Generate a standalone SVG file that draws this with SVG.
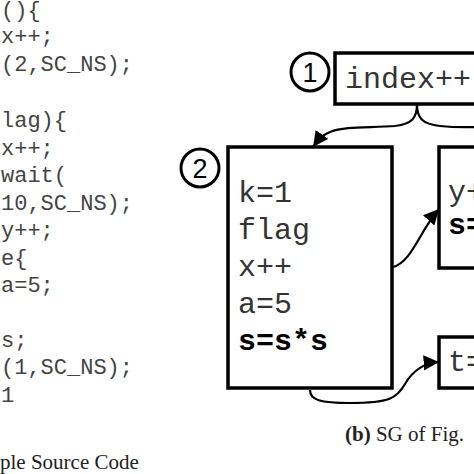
<svg xmlns="http://www.w3.org/2000/svg" width="474" height="474" viewBox="0 0 474 474">
<defs>
<style>
.code{font-family:"Liberation Mono",monospace;font-size:22px;fill:#444}
.cap{font-family:"Liberation Serif",serif;font-size:21px;fill:#222}
.box{fill:#fff;stroke:#000;stroke-width:3.5}
.nt{font-family:"Liberation Mono",monospace;font-size:30px;fill:#333}
.bt{font-family:"Liberation Mono",monospace;font-size:30px;font-weight:bold;fill:#000}
.circ{fill:#fff;stroke:#000;stroke-width:3}
.num{font-family:"Liberation Sans",sans-serif;font-size:27px;fill:#000;text-anchor:middle}
.edge{fill:none;stroke:#000;stroke-width:2.2}
</style>
<marker id="ah" viewBox="0 0 10 10" refX="10" refY="5" markerWidth="7" markerHeight="7" markerUnits="strokeWidth" orient="auto">
<path d="M0,0 L10,5 L0,10 z" fill="#000"/>
</marker>
</defs>
<rect width="474" height="474" fill="#fff"/>
<g id="code">
<text class="code" x="1" y="17">(){</text>
<text class="code" x="1" y="43">x++;</text>
<text class="code" x="1" y="71">(2,SC_NS);</text>
<text class="code" x="1" y="127">lag){</text>
<text class="code" x="1" y="155">x++;</text>
<text class="code" x="1" y="182">wait(</text>
<text class="code" x="1" y="210">10,SC_NS);</text>
<text class="code" x="1" y="237">y++;</text>
<text class="code" x="1" y="265">e{</text>
<text class="code" x="1" y="292">a=5;</text>
<text class="code" x="1" y="347">s;</text>
<text class="code" x="1" y="374">(1,SC_NS);</text>
<text class="code" x="1" y="402">1</text>
<text class="cap" x="0" y="469">ple Source Code</text>
</g>
<g id="connectors">
<path class="edge" d="M417,104 C417,118 412,124 395,126 C370,128 345,126 330,132 C322,135 318,140 313,147" marker-end="url(#ah)"/>
<path class="edge" d="M417,104 C417,118 422,124 440,126 C460,128 470,127 480,127"/>
<path class="edge" d="M393,267 C412,262 420,230 439,209" marker-end="url(#ah)"/>
<path class="edge" d="M310,390 C310,400 320,403 350,403 C390,403 397,398 405,384 C412,372 422,363 439,362" marker-end="url(#ah)"/>
</g>
<g id="node1">
<rect class="box" x="335" y="53" width="180" height="51"/>
<text class="nt" x="345" y="88">index++</text>
<circle class="circ" cx="310" cy="72" r="19"/>
<text class="num" x="310" y="82">1</text>
</g>
<g id="node2">
<rect class="box" x="228" y="147" width="164" height="241"/>
<text class="nt" x="238" y="202">k=1</text>
<text class="nt" x="238" y="239">flag</text>
<text class="nt" x="238" y="276">x++</text>
<text class="nt" x="238" y="313">a=5</text>
<text class="bt" x="238" y="350">s=s*s</text>
<circle class="circ" cx="200" cy="168" r="19"/>
<text class="num" x="200" y="178">2</text>
</g>
<g id="node3">
<rect class="box" x="439" y="147" width="80" height="121"/>
<text class="nt" x="448" y="201">y++</text>
<text class="bt" x="448" y="234">s=</text>
</g>
<g id="node4">
<rect class="box" x="439" y="337" width="80" height="51"/>
<text class="nt" x="448" y="371">t=</text>
</g>
<g id="caption">
<text class="cap" x="345" y="441"><tspan font-weight="bold">(b)</tspan> SG of Fig.</text>
</g>
</svg>
